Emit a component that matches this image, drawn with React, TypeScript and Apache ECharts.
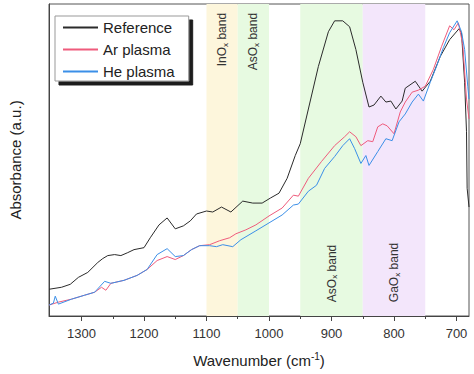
import React, { useEffect, useRef } from "react";
import * as echarts from "echarts";

// Wavenumber (cm^-1) / absorbance (a.u., arbitrary scale)
const refWn = [1352, 1332, 1318, 1305, 1290, 1274, 1266, 1258, 1247, 1237, 1226, 1216, 1200, 1190, 1176, 1163, 1150, 1137, 1126, 1116, 1100, 1090, 1076, 1061, 1042, 1026, 1011, 998, 984, 971, 958, 950, 937, 921, 905, 895, 882, 871, 861, 850, 840, 832, 821, 813, 805, 797, 787, 782, 766, 755, 742, 726, 711, 696, 692, 687, 684, 683, 680];
const refAbs = [27, 29, 32, 39, 44, 54, 58, 61, 62, 61, 64, 67, 69, 79, 92, 99, 88, 91, 96, 103, 106, 105, 110, 105, 116, 114, 114, 119, 124, 139, 162, 174, 209, 252, 287, 298, 298, 292, 269, 236, 211, 213, 222, 216, 217, 209, 217, 230, 237, 227, 237, 262, 279, 290, 286, 236, 186, 129, 110];

const arWn = [1352, 1337, 1316, 1295, 1279, 1268, 1261, 1253, 1232, 1211, 1195, 1179, 1163, 1150, 1137, 1124, 1111, 1095, 1079, 1063, 1053, 1037, 1021, 1000, 979, 961, 953, 937, 916, 895, 879, 871, 861, 853, 842, 834, 826, 818, 811, 800, 790, 782, 771, 761, 750, 737, 724, 711, 704, 697, 690, 684, 680];
const arAbs = [11, 14, 17, 21, 24, 29, 26, 33, 36, 41, 47, 56, 60, 57, 61, 67, 71, 72, 76, 79, 83, 87, 92, 101, 109, 122, 121, 139, 156, 172, 181, 186, 181, 172, 177, 176, 191, 194, 192, 184, 206, 216, 226, 228, 232, 249, 272, 293, 289, 296, 274, 219, 199];

const heWn = [1352, 1345, 1342, 1337, 1316, 1295, 1279, 1263, 1253, 1232, 1211, 1195, 1179, 1163, 1150, 1137, 1124, 1111, 1095, 1084, 1074, 1058, 1045, 1021, 1000, 979, 961, 953, 937, 924, 911, 895, 882, 871, 863, 853, 845, 840, 826, 813, 803, 792, 782, 771, 761, 753, 742, 732, 721, 711, 699, 692, 687, 682, 680];
const heAbs = [11, 13, 20, 12, 17, 21, 24, 35, 33, 36, 41, 47, 62, 68, 60, 61, 67, 71, 71, 70, 72, 70, 77, 86, 94, 102, 112, 113, 126, 132, 149, 161, 172, 179, 169, 154, 162, 152, 166, 179, 177, 196, 204, 216, 224, 217, 236, 252, 271, 286, 298, 287, 269, 232, 219];

const seriesNames = ["Reference", "Ar plasma", "He plasma"];
const seriesColors = ["#2b2b2b", "#ef5b7c", "#3b8fe8"];

const majorTicks = [1300, 1200, 1100, 1000, 900, 800, 700];
const minorTicks = [1250, 1150, 1050, 950, 850, 750];

const bandFrom = [1100, 1050, 950, 850];
const bandTo = [1050, 1000, 850, 750];
const bandColors = ["#fdf6dc", "#e7fae1", "#e7fae1", "#f3e6fb"];
const bandOxide = ["InO", "AsO", "AsO", "GaO"];
const bandLabelAtTop = [true, true, false, false];

const X_MIN = 680;
const X_MAX = 1352;
const Y_MIN = 0;
const Y_MAX = 315;

const FONT = 'Arial, "Liberation Sans", sans-serif';

function pairs(xs: number[], ys: number[]) {
  return xs.map((x, i) => [x, ys[i]]);
}

export default function App() {
  const ref = useRef<HTMLDivElement>(null);

  useEffect(() => {
    if (!ref.current) return;
    const chart = echarts.init(ref.current, undefined, { renderer: "svg" });

    const axisBase = {
      type: "value" as const,
      min: X_MIN,
      max: X_MAX,
      inverse: true,
      splitLine: { show: false },
    };

    chart.setOption({
      animation: false,
      backgroundColor: "#ffffff",
      textStyle: { fontFamily: FONT },
      grid: {
        left: 44,
        right: 5,
        top: 4,
        bottom: 55,
        show: true,
        borderColor: "#555",
        borderWidth: 1,
        backgroundColor: "transparent",
      },
      legend: {
        orient: "vertical",
        left: 55,
        top: 16,
        data: seriesNames,
        itemWidth: 35,
        itemHeight: 14,
        itemGap: 7,
        itemTextGap: 5,
        padding: [4, 14, 2, 7],
        backgroundColor: "#ffffff",
        borderColor: "#999",
        borderWidth: 1,
        borderRadius: 0,
        shadowColor: "#1a1a1a",
        shadowBlur: 0,
        shadowOffsetX: 4,
        shadowOffsetY: 4,
        itemStyle: { opacity: 0 },
        textStyle: { fontSize: 15, color: "#222", fontFamily: FONT },
      },
      xAxis: [
        {
          ...axisBase,
          name: "Wavenumber (cm{sup|-1})",
          nameLocation: "middle",
          nameGap: 35,
          nameTextStyle: {
            fontSize: 15,
            color: "#222",
            lineHeight: 18,
            fontFamily: FONT,
            rich: { sup: { fontSize: 10, lineHeight: 9, verticalAlign: "top", color: "#222" } },
          },
          axisLine: { show: true, onZero: false, lineStyle: { color: "#444", width: 1 } },
          axisTick: { show: true, customValues: majorTicks, length: 5, inside: false, lineStyle: { color: "#444" } },
          axisLabel: {
            customValues: majorTicks,
            fontSize: 13,
            color: "#333",
            margin: 11,
            fontFamily: FONT,
            formatter: (v: number) => String(v),
          },
        },
        {
          ...axisBase,
          position: "bottom",
          axisLine: { show: false },
          axisTick: { show: true, customValues: minorTicks, length: 3, inside: false, lineStyle: { color: "#444" } },
          axisLabel: { show: false },
        },
      ],
      yAxis: {
        type: "value",
        min: Y_MIN,
        max: Y_MAX,
        name: "Absorbance (a.u.)",
        nameLocation: "middle",
        nameGap: 26,
        nameTextStyle: { fontSize: 15, color: "#222", fontFamily: FONT },
        axisLine: { show: true, lineStyle: { color: "#444", width: 1 } },
        axisTick: { show: false },
        axisLabel: { show: false },
        splitLine: { show: false },
      },
      series: [
        {
          name: seriesNames[0],
          type: "line",
          data: pairs(refWn, refAbs),
          symbol: "none",
          lineStyle: { color: seriesColors[0], width: 1 },
          itemStyle: { color: seriesColors[0] },
          z: 3,
          markArea: {
            silent: true,
            z: 1,
            data: bandFrom.map((f, i) => [
              { xAxis: f, itemStyle: { color: bandColors[i] } },
              { xAxis: bandTo[i] },
            ]),
          },
        },
        {
          name: seriesNames[1],
          type: "line",
          data: pairs(arWn, arAbs),
          symbol: "none",
          lineStyle: { color: seriesColors[1], width: 1 },
          itemStyle: { color: seriesColors[1] },
          z: 3,
        },
        {
          name: seriesNames[2],
          type: "line",
          data: pairs(heWn, heAbs),
          symbol: "none",
          lineStyle: { color: seriesColors[2], width: 1 },
          itemStyle: { color: seriesColors[2] },
          z: 3,
        },
      ],
    });

    // band labels positioned through the axes
    const graphics = bandFrom.map((f, i) => {
      const cx = chart.convertToPixel({ xAxisIndex: 0 }, (f + bandTo[i]) / 2) as number;
      const top = bandLabelAtTop[i];
      const y = chart.convertToPixel({ yAxisIndex: 0 }, top ? 306 : 14) as number;
      return {
        type: "text",
        x: cx,
        y: y,
        rotation: Math.PI / 2,
        z: 5,
        silent: true,
        style: {
          text: `{n|${bandOxide[i]}}{s|x}{n| band}`,
          align: top ? "right" : "left",
          verticalAlign: "middle",
          fill: "#333",
          fontFamily: FONT,
          rich: {
            n: { fontSize: 12, lineHeight: 14, fill: "#333", fontFamily: FONT },
            s: { fontSize: 8, lineHeight: 7, verticalAlign: "bottom", fill: "#333", fontFamily: FONT },
          },
        },
      };
    });
    chart.setOption({ graphic: graphics });

    return () => chart.dispose();
  }, []);

  return (
    <div
      ref={ref}
      style={{ position: "fixed", left: 0, top: 0, width: 474, height: 374, background: "#fff" }}
    />
  );
}
